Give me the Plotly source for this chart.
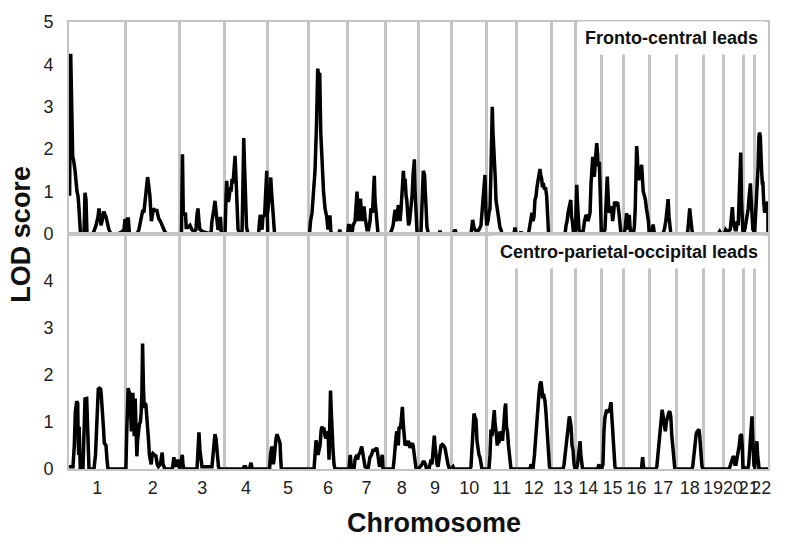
import numpy as np
import plotly.graph_objects as go
from plotly.subplots import make_subplots

# chromosome names and genetic lengths (cM)
chromosomes = [str(i) for i in range(1, 23)]
chrom_cm = [283, 272, 222, 217, 203, 197, 187, 166, 167, 175, 150,
            172, 120, 133, 108, 133, 133, 133, 100, 100, 58, 67]

# Fronto-central leads: position within chromosome (cM) and LOD score
fc_pos = [
    [0, 3, 8.5, 12.5, 18.5, 22.5, 30, 40, 45, 48.5, 52.5, 57.5, 75, 80, 85, 90, 120, 135, 145, 150, 155, 160, 167.5, 175, 180, 185, 192.5, 200, 210, 245, 265, 275, 280, 283],
    [4, 9, 14, 19, 56.5, 66.5, 76.5, 86.5, 91.5, 101.5, 110, 114, 121.5, 129, 134, 139, 146.5, 156.5, 161.5, 166.5, 174, 181.5, 189, 196.5, 206.5],
    [7.5, 12.5, 16.5, 22.5, 27.5, 31, 40, 50, 60, 70, 80, 85, 90, 95, 100, 115, 155, 160, 165, 170, 175, 180, 185, 190, 197.5, 202.5, 207.5],
    [3.5, 8.5, 12, 16, 20, 25, 28.5, 33.5, 38.5, 43.5, 48.5, 53.5, 58.5, 63.5, 68.5, 78.5, 88.5, 93.5, 97, 101, 105, 111, 118.5, 171, 176, 180, 183.5, 188.5, 193.5, 201, 206, 212, 215, 217],
    [0, 9, 15, 19, 25, 29, 34],
    [6, 11, 18.5, 26, 33.5, 41, 47, 52, 57, 62, 66, 68.5, 76, 83.5, 88.5, 92, 96, 98.5, 103.5, 108.5, 112, 115, 153.5, 157, 161],
    [4, 9, 14, 21.5, 26.5, 36.5, 41.5, 46.5, 51.5, 54, 59, 64, 69, 71.5, 76.5, 81.5, 86.5, 91.5, 96.5, 104, 111.5, 116.5, 124, 129, 133, 136.5, 141.5, 146.5, 151.5],
    [5, 25, 33.5, 40, 45, 50, 55, 60, 66.5, 70, 75, 80, 85, 91.5, 95, 100, 105, 108.5, 112.5, 117.5, 122.5, 130, 135, 140, 146.5, 150, 155, 160],
    [3.5, 13.5, 18.5, 25, 31, 35, 38.5, 43.5, 48.5, 53.5, 103.5, 108.5, 113.5],
    [6.5, 16.5, 24, 96.5, 105, 111.5, 116.5, 126.5, 136.5, 146.5, 154, 159, 166.5, 171.5, 175],
    [0, 6.5, 11.5, 16.5, 21.5, 28, 31.5, 36.5, 40, 43, 46.5, 51.5, 56.5, 61.5, 66.5, 71.5, 76.5, 136.5, 141.5, 146.5],
    [6.5, 16.5, 21.5, 26.5, 59, 64, 69, 76.5, 81.5, 86.5, 91.5, 96.5, 101.5, 109, 116.5, 120, 125, 129, 133, 139, 144, 150, 154, 159, 164],
    [5, 70, 75, 80, 85, 90, 98.5, 102.5, 106.5, 111.5, 115],
    [2.5, 5, 8.5, 12.5, 15, 20, 25, 40, 47.5, 55, 60, 65, 70, 75, 80, 88.5, 92.5, 96.5, 102.5, 108.5, 112.5, 115, 121.5, 125, 128.5, 131.5],
    [4, 16.5, 21.5, 28, 31.5, 36.5, 41.5, 46.5, 51.5, 55, 60, 65, 71.5, 80, 86.5, 91.5, 96.5],
    [3.5, 8.5, 13.5, 17, 21, 23.5, 27, 30, 33.5, 37, 51, 56, 60, 63.5, 67, 71, 73.5, 78.5, 83.5, 88.5, 92, 96, 100, 106, 111, 116, 121, 126, 130],
    [5, 10, 16.5, 21.5, 25, 65, 72.5, 80, 85, 91.5, 96, 100, 105],
    [49, 56.5, 61.5, 66.5, 71.5, 74, 79, 84],
    [76, 83.5, 91],
    [6, 13.5, 23.5, 36, 42, 47, 51, 54.5, 61, 66, 71, 76, 81, 85, 88.5, 92.5, 96, 99.5],
    [6, 11, 16, 21, 26, 31, 37, 41, 44.5, 49.5, 55],
    [3.5, 7.5, 11.5, 17.5, 21.5, 25, 28.5, 31.5, 35, 38.5, 41.5, 45, 50, 53.5, 58.5, 62.5, 66.5],
]
fc_lod = [
    [1.05, 0.9, 4.25, 3.0, 1.82, 1.75, 1.5, 1.0, 0.9, 0.7, 0.1, 0, 0, 0.97, 0.8, 0, 0, 0.2, 0.4, 0.6, 0.45, 0.2, 0.35, 0.53, 0.45, 0.4, 0.25, 0.1, 0, 0, 0.05, 0.1, 0.35, 0],
    [0, 0.35, 0.35, 0, 0, 0.1, 0.3, 0.57, 0.5, 0.9, 1.34, 1.2, 0.9, 0.3, 0.5, 0.6, 0.55, 0.55, 0.45, 0.35, 0.3, 0.2, 0.1, 0.05, 0],
    [0, 1.88, 0.5, 0.45, 0.5, 0.15, 0.15, 0.2, 0.1, 0.05, 0.1, 0.45, 0.6, 0.3, 0.1, 0.05, 0, 0.3, 0.55, 0.6, 0.78, 0.6, 0.4, 0.1, 0.15, 0.4, 0],
    [0, 0.9, 1.25, 0.9, 0.75, 0.9, 1.1, 1.0, 1.3, 1.2, 1.5, 1.84, 1.3, 0.5, 0.1, 0, 0.05, 1.3, 2.26, 1.6, 0.6, 0.15, 0, 0, 0.3, 0.45, 0.2, 0.1, 0.45, 0.4, 0.9, 1.49, 0.5, 0],
    [0.5, 1.0, 1.33, 1.0, 0.6, 0.2, 0],
    [0, 0.3, 0.5, 1.0, 1.5, 2.6, 3.9, 3.7, 3.8, 2.4, 2.0, 1.5, 1.0, 0.6, 0.5, 0.4, 0.2, 0.1, 0.4, 0.4, 0.1, 0, 0, 0.1, 0],
    [0.2, 0.2, 0, 0, 0.2, 0.3, 0.6, 1.0, 0.5, 0.3, 0.6, 0.83, 0.4, 0.3, 0.55, 0.65, 0.4, 0.2, 0.1, 0.1, 0.3, 0.6, 0.5, 1.0, 1.37, 0.8, 0.5, 0.1, 0],
    [0, 0, 0.1, 0.2, 0.4, 0.57, 0.3, 0.5, 0.68, 0.5, 0.3, 0.6, 1.0, 1.49, 1.2, 1.3, 0.9, 0.8, 0.5, 0.2, 0.3, 0.6, 0.9, 1.4, 1.76, 1.0, 0.5, 0],
    [0, 0.05, 0.6, 1.49, 1.4, 0.9, 0.5, 0.15, 0.05, 0, 0, 0.07, 0],
    [0, 0.1, 0, 0, 0.33, 0.15, 0.1, 0.05, 0.1, 0.2, 0.6, 0.8, 1.39, 0.5, 0.2],
    [0.2, 0.3, 0.5, 0.6, 1.5, 3.0, 2.4, 2.0, 1.8, 1.3, 0.8, 0.6, 0.4, 0.3, 0.15, 0.1, 0, 0, 0.15, 0],
    [0, 0, 0.05, 0, 0, 0.15, 0.3, 0.5, 0.3, 0.4, 0.8, 0.88, 1.1, 1.3, 1.53, 1.4, 1.3, 1.1, 1.2, 1.05, 1.1, 0.9, 0.3, 0.05, 0],
    [0, 0, 0.2, 0.3, 0.5, 0.6, 0.8, 0.4, 0.3, 0.05, 0],
    [0, 0.6, 1.16, 0.7, 0.3, 0.1, 0.05, 0.05, 0.3, 0.45, 0.4, 0.3, 0.4, 0.5, 1.2, 1.82, 1.4, 1.35, 1.8, 2.14, 1.9, 1.6, 1.7, 0.8, 0.2, 0],
    [0, 0.1, 0.6, 1.35, 1.0, 0.5, 0.55, 0.65, 0.5, 0.3, 0.5, 0.76, 0.7, 0.75, 0.5, 0.2, 0],
    [0, 0.1, 0.3, 0.49, 0.3, 0.1, 0.3, 0.45, 0.2, 0, 0, 0.2, 0.6, 1.5, 2.07, 1.8, 1.3, 1.3, 1.4, 1.5, 1.63, 1.3, 1.0, 0.9, 0.8, 0.6, 0.45, 0.3, 0],
    [0, 0.1, 0.22, 0.05, 0, 0, 0.1, 0.3, 0.5, 0.82, 0.4, 0.2, 0],
    [0, 0.05, 0.3, 0.6, 0.35, 0.2, 0.05, 0],
    [0, 0.06, 0],
    [0, 0.1, 0.05, 0.1, 0.45, 0.63, 0.3, 0.2, 0.1, 0.1, 0.3, 0.2, 0.9, 1.4, 1.92, 0.8, 0.3, 0.05],
    [0.05, 0.15, 0.3, 0.5, 0.6, 0.9, 1.19, 0.8, 0.4, 0.1, 0.05],
    [0.3, 0.9, 1.3, 1.6, 2.3, 2.39, 2.3, 1.6, 1.5, 1.2, 1.2, 0.8, 0.5, 0.55, 0.7, 0.75, 0.75],
]

# Centro-parietal-occipital leads
cpo_pos = [
    [0, 20, 26.5, 31.5, 38.5, 43.5, 46, 48.5, 51, 54, 56.5, 70, 75, 80, 88.5, 92.5, 95, 100, 125, 132.5, 137.5, 142.5, 146.5, 152.5, 158.5, 162.5, 166.5, 170, 173.5, 176.5, 180, 185, 190, 195],
    [1.5, 6.5, 13, 16.5, 21.5, 25.5, 29, 32.5, 36.5, 40, 43, 48, 50.5, 53, 56.5, 60, 64, 69, 74, 78, 81.5, 85, 89, 93, 96.5, 101.5, 106.5, 111.5, 115, 119, 124, 128, 133, 136.5, 144, 151.5, 158, 164, 174, 179, 183, 187.5, 191.5, 196.5, 234, 238, 241.5, 246.5, 254, 259, 263, 267.5, 271.5],
    [2.5, 7.5, 11.5, 15, 20, 85, 90, 95, 100, 105, 110, 160, 166.5, 171.5, 175, 180, 185, 188.5, 192.5, 197.5],
    [93.5, 98.5, 106, 111, 126, 131, 134.5, 138.5],
    [9, 14, 20, 24, 28, 31.5, 36.5, 41.5, 46.5, 51.5, 56.5, 61.5, 65, 68],
    [28.5, 33.5, 38.5, 43.5, 48.5, 53.5, 58.5, 63.5, 67, 73.5, 78.5, 83.5, 88.5, 93.5, 98.5, 103.5, 107, 111, 115, 118.5, 123.5, 128.5, 133.5],
    [6.5, 10, 13, 16.5, 21.5, 31.5, 36.5, 45, 49, 54, 61.5, 70, 76.5, 81.5, 86.5, 101.5, 106.5, 111.5, 119, 126.5, 134, 145, 149, 153, 159, 169, 173, 176.5],
    [40, 45, 50, 55, 58.5, 62.5, 66, 70, 75, 80, 86.5, 90, 95, 100, 105, 110, 116.5, 120, 125, 130, 136.5, 140, 145, 150, 155],
    [3.5, 13.5, 18.5, 23.5, 30, 36, 41, 53.5, 58.5, 63.5, 68.5, 73.5, 80, 83.5, 88.5, 93.5, 98.5, 103.5, 108.5, 113.5, 120, 126, 133.5, 138.5, 143.5, 148.5, 156],
    [0, 6.5, 11.5, 91.5, 96.5, 101.5, 106.5, 111.5, 116.5, 121.5, 126.5, 131.5, 136.5, 141.5, 146.5, 151.5],
    [11.5, 16.5, 21.5, 26.5, 34, 38, 41.5, 45, 49, 53, 56.5, 61.5, 66.5, 71.5, 75, 79, 81.5, 86.5, 91.5, 95, 99, 104, 109, 114, 119, 121.5],
    [66.5, 71.5, 76.5, 81.5, 89, 96.5, 104, 111.5, 116.5, 121.5, 126.5, 130, 134, 138, 141.5, 146.5, 151.5, 155, 159, 164, 169],
    [60, 65, 70, 77.5, 85, 91.5, 96.5, 100, 105, 110, 115, 120],
    [7.5, 12.5, 17.5, 21.5, 25, 29, 33.5, 37.5, 112.5, 116.5, 120, 123.5],
    [1.5, 6.5, 11.5, 16.5, 25, 31.5, 36.5, 41.5, 46.5, 51.5, 56.5, 61.5, 66.5, 71.5],
    [91, 94.5, 97, 100, 103.5],
    [30, 35, 40, 45, 50, 55, 61.5, 67.5, 73.5, 77.5, 82.5, 90, 95, 100, 105, 110, 115, 120, 125],
    [76.5, 81.5, 88, 93, 99, 104, 113, 116.5, 121.5, 125, 128, 131.5],
    [0, 100],
    [31, 38.5, 46, 51, 55, 59.5, 65, 70, 75, 81, 86, 92, 96, 99.5],
    [3.5, 13.5, 23.5, 28.5, 33.5, 38.5, 45, 48.5, 51, 55, 58],
    [2.5, 6.5, 11.5, 15, 19, 22.5],
]
cpo_lod = [
    [0.05, 0.05, 0.5, 1.2, 1.44, 1.4, 0.6, 0.3, 0.9, 0.4, 0, 0, 0.6, 1.49, 1.5, 0.8, 0.3, 0, 0, 0.3, 0.8, 1.5, 1.7, 1.72, 1.7, 1.5, 1.3, 1.0, 0.8, 0.55, 0.52, 0.5, 0.2, 0],
    [0, 0.9, 1.72, 1.65, 1.6, 1.0, 0.8, 1.3, 1.62, 1.1, 0.7, 1.5, 0.9, 0.5, 0.27, 0.6, 0.9, 0.95, 1.0, 1.2, 1.6, 2.67, 1.8, 1.3, 1.4, 1.37, 1.1, 1.0, 0.6, 0.3, 0.15, 0.1, 0.3, 0.33, 0.3, 0.28, 0.1, 0.05, 0.1, 0.2, 0.35, 0.1, 0.05, 0, 0, 0.2, 0.25, 0.1, 0.05, 0.15, 0.2, 0.05, 0],
    [0.05, 0.2, 0.3, 0.1, 0, 0, 0.4, 0.78, 0.4, 0.1, 0.05, 0.05, 0.4, 0.65, 0.74, 0.65, 0.4, 0.15, 0.05, 0],
    [0, 0.05, 0.05, 0, 0, 0.1, 0.13, 0],
    [0, 0.3, 0.48, 0.3, 0.1, 0.2, 0.5, 0.65, 0.74, 0.65, 0.6, 0.55, 0.2, 0],
    [0, 0.3, 0.61, 0.5, 0.3, 0.4, 0.5, 0.8, 0.9, 0.85, 0.85, 0.7, 0.65, 0.75, 0.8, 0.2, 0.9, 1.67, 1.2, 0.7, 0.4, 0.1, 0],
    [0, 0.2, 0.3, 0.1, 0, 0, 0.2, 0.3, 0.2, 0.3, 0.35, 0.48, 0.3, 0.1, 0.05, 0, 0.1, 0.25, 0.3, 0.4, 0.4, 0.45, 0.35, 0.2, 0.05, 0.2, 0.3, 0],
    [0, 0.2, 0.6, 0.7, 0.8, 0.6, 0.5, 0.9, 0.85, 1.0, 1.32, 1.0, 0.7, 0.5, 0.55, 0.5, 0.6, 0.5, 0.45, 0.5, 0.55, 0.5, 0.3, 0.1, 0],
    [0.02, 0.05, 0.1, 0.15, 0.15, 0.1, 0, 0, 0.15, 0.2, 0.1, 0.4, 0.71, 0.5, 0.2, 0.1, 0.05, 0.2, 0.4, 0.5, 0.52, 0.5, 0.45, 0.3, 0.2, 0.1, 0],
    [0.02, 0.05, 0, 0, 0.05, 0.4, 0.9, 1.18, 1.1, 1.05, 0.6, 0.4, 0.3, 0.25, 0.1, 0],
    [0, 0.3, 0.84, 0.7, 1.1, 1.25, 1.0, 0.9, 0.7, 0.5, 0.6, 0.55, 0.8, 0.7, 0.8, 0.6, 0.7, 1.0, 1.3, 1.39, 0.9, 0.8, 0.5, 0.3, 0.1, 0],
    [0, 0.1, 0.05, 0, 0.3, 0.8, 1.2, 1.6, 1.8, 1.86, 1.7, 1.5, 1.6, 1.55, 1.45, 1.2, 0.8, 0.6, 0.2, 0.05, 0],
    [0, 0.1, 0.3, 0.6, 1.0, 1.12, 1.0, 0.9, 0.5, 0.4, 0.1, 0],
    [0, 0.1, 0.3, 0.55, 0.59, 0.3, 0.05, 0, 0, 0.05, 0.1, 0],
    [0.02, 0.1, 0.8, 1.1, 1.26, 1.2, 1.25, 1.3, 1.42, 1.1, 0.6, 0.3, 0.05, 0],
    [0, 0.15, 0.25, 0.1, 0],
    [0, 0.05, 0.3, 0.6, 0.8, 1.1, 1.26, 1.1, 0.9, 0.8, 1.0, 1.15, 1.2, 1.23, 1.1, 0.7, 0.4, 0.1, 0],
    [0, 0.05, 0.3, 0.6, 0.75, 0.8, 0.84, 0.7, 0.5, 0.2, 0.05, 0],
    [0, 0],
    [0, 0.1, 0.2, 0.27, 0.25, 0.1, 0.1, 0.2, 0.3, 0.5, 0.7, 0.74, 0.5, 0.15],
    [0.05, 0, 0, 0.1, 0.4, 0.8, 1.12, 0.7, 0.3, 0.05, 0.2],
    [0.2, 0.4, 0.59, 0.3, 0.05, 0],
]

FONT = "Liberation Sans, Arial, sans-serif"
GREY = "#c4c4c4"

bounds = np.concatenate([[0], np.cumsum(chrom_cm)])
offsets = bounds[:-1]
centers = offsets + np.array(chrom_cm) / 2
total = bounds[-1]


def genome_trace(pos_lists, lod_lists):
    xs, ys = [], []
    for start, length, pos, lod in zip(offsets, chrom_cm, pos_lists, lod_lists):
        pos, lod = list(pos), list(lod)
        if pos[0] > 0:
            pos, lod = [0] + pos, [0] + lod
        if pos[-1] < length:
            pos, lod = pos + [length], lod + [0]
        xs += [start + p for p in pos] + [None]
        ys += lod + [None]
    return go.Scatter(x=xs, y=ys, mode="lines", line=dict(color="black", width=3.5),
                      hoverinfo="skip", showlegend=False)


fig = make_subplots(rows=2, cols=1, shared_xaxes=True, vertical_spacing=0,
                    row_heights=[0.474, 0.526])
fig.add_trace(genome_trace(fc_pos, fc_lod), row=1, col=1)
fig.add_trace(genome_trace(cpo_pos, cpo_lod), row=2, col=1)

fig.update_xaxes(range=[0, total], showgrid=False, zeroline=False, automargin=False,
                 showline=True, linecolor=GREY, linewidth=2, mirror=True,
                 tickmode="array", tickvals=centers, ticktext=chromosomes, ticks="",
                 tickangle=0,
                 minor=dict(tickmode="array", tickvals=bounds, showgrid=True,
                            gridcolor=GREY, gridwidth=2.5, ticks=""),
                 layer="below traces", ticklabelstandoff=1,
                 tickfont=dict(family=FONT, size=18, color="#222"))
fig.update_xaxes(showticklabels=False, row=1, col=1)

fig.update_yaxes(range=[0, 5], showgrid=False, zeroline=False, showline=True,
                 automargin=False,
                 linecolor=GREY, linewidth=2, mirror=True, ticks="",
                 layer="below traces", ticklabelstandoff=10,
                 tickfont=dict(family=FONT, size=18, color="#222"))
fig.update_yaxes(tickvals=[0, 1, 2, 3, 4, 5], row=1, col=1)
fig.update_yaxes(tickvals=[0, 1, 2, 3, 4], row=2, col=1)

fig.add_annotation(text="<b>Fronto-central leads</b>", xref="paper", yref="paper",
                   x=0.996, y=0.964, xanchor="right", yanchor="middle", showarrow=False,
                   bgcolor="white", borderpad=6,
                   font=dict(family=FONT, size=18, color="#111"))
fig.add_annotation(text="<b>Centro-parietal-occipital leads</b>", xref="paper", yref="paper",
                   x=0.996, y=0.4865, xanchor="right", yanchor="middle", showarrow=False,
                   bgcolor="white", borderpad=6,
                   font=dict(family=FONT, size=18, color="#111"))
fig.add_annotation(text="<b>LOD score</b>", xref="paper", yref="paper",
                   x=-0.069, y=0.526, textangle=-90, showarrow=False,
                   xanchor="center", yanchor="middle",
                   font=dict(family=FONT, size=27, color="#111"))
fig.add_annotation(text="<b>Chromosome</b>", xref="paper", yref="paper",
                   x=0.522, y=-0.12, showarrow=False,
                   xanchor="center", yanchor="middle",
                   font=dict(family=FONT, size=27, color="#111"))

# the page body keeps an 8px margin, so the figure is drawn 8px smaller
fig.update_layout(width=777, height=534, margin=dict(l=61, r=17, t=14, b=73),
                  paper_bgcolor="white", plot_bgcolor="white",
                  font=dict(family=FONT), showlegend=False)

fig.write_html("out.html")
